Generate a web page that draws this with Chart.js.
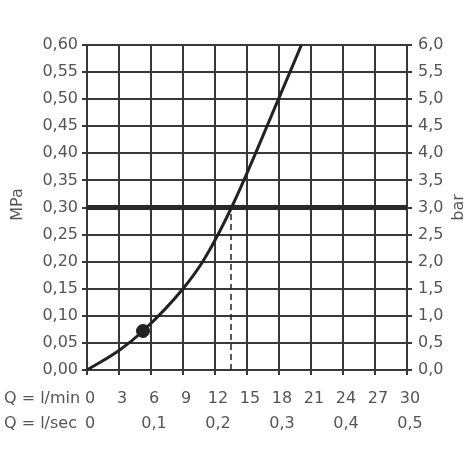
<!DOCTYPE html>
<html>
<head>
<meta charset="utf-8">
<script src="https://cdn.jsdelivr.net/npm/chart.js@4/dist/chart.umd.min.js"></script>
<style>
  html, body { margin: 0; padding: 0; background: #fff; }
  #wrap { width: 470px; height: 470px; }
</style>
</head>
<body>
<div id="wrap"><canvas id="c" width="470" height="470"></canvas></div>
<script>
// Data
const flowLmin = [0, 3, 5.25, 9.0, 11.0, 13.55, 17.95, 20.1];
const pressureMPa = [0, 0.036, 0.072, 0.15, 0.205, 0.30, 0.50, 0.60];
const markerFlow = [5.25];
const markerPressure = [0.072];
const refPressure = 0.30;      // thick horizontal line
const refFlow = 13.5;          // dashed vertical line
const xTicksLmin = [0, 3, 6, 9, 12, 15, 18, 21, 24, 27, 30];
const xTicksLsec = ['0', '', '0,1', '', '0,2', '', '0,3', '', '0,4', '', '0,5'];
const rowLabels = ['Q = l/min', 'Q = l/sec'];
const leftTitle = 'MPa';
const rightTitle = 'bar';

const FONT = '"DejaVu Sans", sans-serif';
const TXT = '#555';
const GRID = '#383838';

const curve = flowLmin.map((x, i) => ({ x, y: pressureMPa[i] }));
const marker = markerFlow.map((x, i) => ({ x, y: markerPressure[i] }));

const extraText = {
  id: 'extraText',
  afterDraw(chart) {
    const ctx = chart.ctx;
    const ca = chart.chartArea;
    ctx.save();
    ctx.fillStyle = TXT;
    ctx.font = '16px ' + FONT;
    ctx.textBaseline = 'middle';
    ctx.textAlign = 'left';
    ctx.fillText(rowLabels[0], 4, 399);
    ctx.fillText(rowLabels[1], 4, 424);
    const midY = (ca.top + ca.bottom) / 2;
    ctx.font = '16px ' + FONT;
    ctx.textAlign = 'center';
    ctx.save();
    ctx.translate(18, midY - 3);
    ctx.rotate(-Math.PI / 2);
    ctx.fillText(leftTitle, 0, 0);
    ctx.restore();
    ctx.save();
    ctx.translate(459, midY);
    ctx.rotate(-Math.PI / 2);
    ctx.fillText(rightTitle, 0, 0);
    ctx.restore();
    ctx.restore();
  }
};

new Chart(document.getElementById('c'), {
  type: 'scatter',
  data: {
    datasets: [
      {
        data: [{ x: 0, y: refPressure }, { x: 30, y: refPressure }],
        showLine: true, borderColor: '#2a2a2a', borderWidth: 5,
        pointRadius: 0, order: 3
      },
      {
        data: [{ x: refFlow, y: 0 }, { x: refFlow, y: refPressure }],
        showLine: true, borderColor: '#222', borderWidth: 1.5,
        borderDash: [6, 4], pointRadius: 0, order: 2
      },
      {
        data: curve, showLine: true, borderColor: '#222', borderWidth: 3,
        cubicInterpolationMode: 'monotone', pointRadius: 0, order: 1
      },
      {
        data: marker, showLine: false, pointRadius: 6.5,
        pointBackgroundColor: '#222', pointBorderColor: '#222', order: 0
      }
    ]
  },
  options: {
    responsive: false,
    animation: false,
    devicePixelRatio: 1,
    layout: { padding: { top: 45, left: 0, right: 0, bottom: 0 } },
    plugins: { legend: { display: false }, tooltip: { enabled: false } },
    scales: {
      x: {
        type: 'linear', min: 0, max: 30,
        afterBuildTicks(scale) { scale.ticks = xTicksLmin.map(v => ({ value: v })); },
        afterFit(scale) { scale.height = 100; },
        grid: { color: GRID, lineWidth: 2, tickLength: 5, drawTicks: true },
        border: { color: GRID, width: 2 },
        ticks: {
          color: TXT, font: { family: FONT, size: 16, lineHeight: 1.56 },
          padding: 11, labelOffset: 3, maxRotation: 0, autoSkip: false,
          callback(v) {
            const i = xTicksLmin.indexOf(v);
            return [String(v), i >= 0 ? xTicksLsec[i] : ''];
          }
        }
      },
      y: {
        position: 'left', min: 0, max: 0.6,
        ticks: {
          stepSize: 0.05, color: TXT, font: { family: FONT, size: 16 }, padding: 4,
          callback(v) { return v.toFixed(2).replace('.', ','); }
        },
        afterFit(scale) { scale.width = 87; },
        grid: { color: GRID, lineWidth: 2, tickLength: 5 },
        border: { color: GRID, width: 2 }
      },
      y2: {
        position: 'right', min: 0, max: 6,
        ticks: {
          stepSize: 0.5, color: TXT, font: { family: FONT, size: 16 }, padding: 6,
          callback(v) { return v.toFixed(1).replace('.', ','); }
        },
        afterFit(scale) { scale.width = 63; },
        grid: { color: GRID, lineWidth: 2, tickLength: 5, drawOnChartArea: false },
        border: { color: GRID, width: 2 }
      }
    }
  },
  plugins: [extraText]
});
</script>
</body>
</html>
